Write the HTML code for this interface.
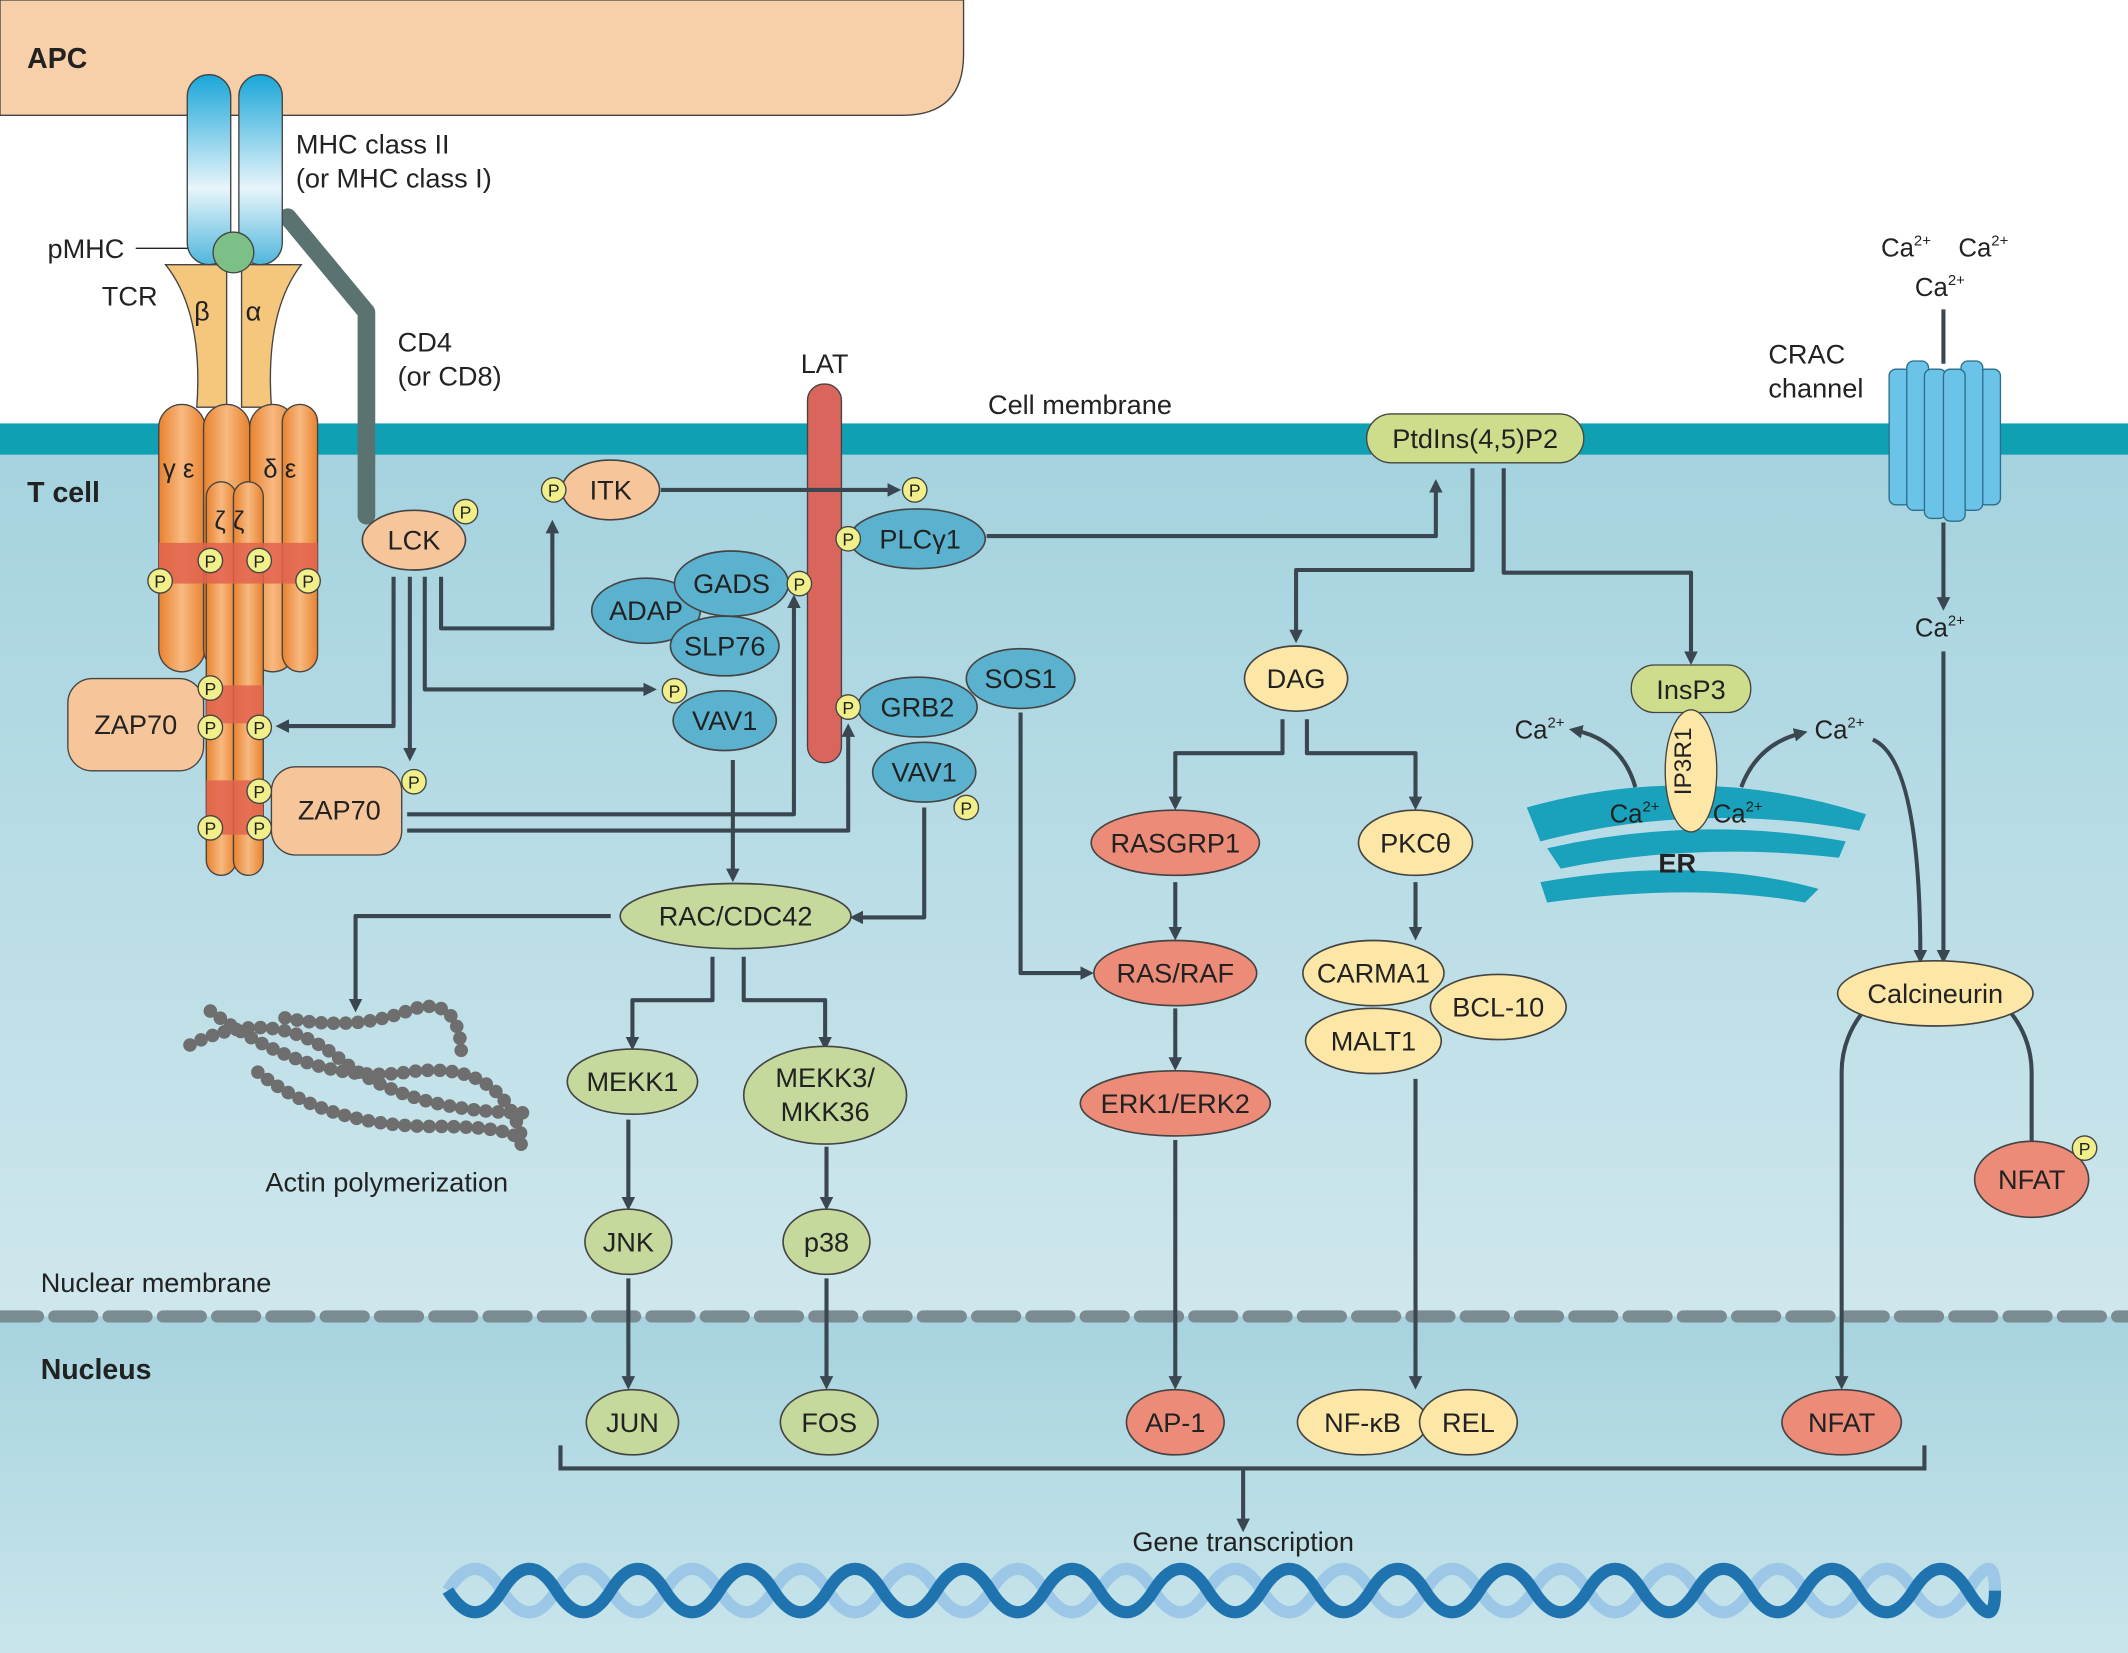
<!DOCTYPE html>
<html><head><meta charset="utf-8"><style>html,body{margin:0;padding:0;background:#fff}svg{display:block}text{font-family:"Liberation Sans",sans-serif;fill:#222}</style></head><body>
<svg width="2128" height="1653" viewBox="0 0 1568 1218" preserveAspectRatio="none" xmlns="http://www.w3.org/2000/svg">
<defs>
<linearGradient id="cyto" x1="0" y1="0" x2="0" y2="1"><stop offset="0" stop-color="#a3d2de"/><stop offset="1" stop-color="#cfe7ed"/></linearGradient>
<linearGradient id="nuc" x1="0" y1="0" x2="0" y2="1"><stop offset="0" stop-color="#a6d3de"/><stop offset="1" stop-color="#c9e5eb"/></linearGradient>
<linearGradient id="mhc" x1="0" y1="0" x2="0" y2="1"><stop offset="0" stop-color="#1aa6d8"/><stop offset="0.6" stop-color="#e8f5fb"/><stop offset="1" stop-color="#4fb6dc"/></linearGradient>
<linearGradient id="org" x1="0" y1="0" x2="1" y2="0"><stop offset="0" stop-color="#e8822e"/><stop offset="0.5" stop-color="#f8b980"/><stop offset="1" stop-color="#e8822e"/></linearGradient>
<marker id="ah" markerWidth="10" markerHeight="10" refX="6" refY="5" orient="auto" markerUnits="userSpaceOnUse"><path d="M0,0 L10,5 L0,10 Z" fill="#3a4650"/></marker>
</defs>
<!-- backgrounds -->
<rect x="0" y="312" width="1568" height="660" fill="url(#cyto)"/>
<rect x="0" y="970" width="1568" height="248" fill="url(#nuc)"/>
<rect x="0" y="312" width="1568" height="23" fill="#10a0b4"/>
<line x1="0" y1="970" x2="1568" y2="970" stroke="#7b8b92" stroke-width="9" stroke-dasharray="28 12" stroke-linecap="round"/>
<path d="M0,0 H710 V40 Q710,85 665,85 H0 Z" fill="#f7cfa8" stroke="#444" stroke-width="1"/>
<text x="20" y="50" font-size="21" font-weight="bold">APC</text>
<text x="20" y="370" font-size="21" font-weight="bold">T cell</text>
<text x="30" y="1016" font-size="21" font-weight="bold">Nucleus</text>
<text x="30" y="952" font-size="20">Nuclear membrane</text>
<text x="728" y="305" font-size="20">Cell membrane</text>
<text x="590" y="275" font-size="20">LAT</text>
<text x="293" y="259" font-size="20">CD4</text><text x="293" y="284" font-size="20">(or CD8)</text>
<text x="218" y="113" font-size="20">MHC class II</text><text x="218" y="138" font-size="20">(or MHC class I)</text>
<text x="35" y="190" font-size="20">pMHC</text><line x1="100" y1="183" x2="160" y2="183" stroke="#222"/>
<text x="75" y="225" font-size="20">TCR</text>
<text x="1303" y="268" font-size="20">CRAC</text><text x="1303" y="293" font-size="20">channel</text>
<!-- CD4 -->
<path d="M212,160 L270,230 V380" fill="none" stroke="#5a7270" stroke-width="13" stroke-linejoin="round" stroke-linecap="round"/>
<!-- TCR -->
<path d="M122,195 Q150,230 145,300 H167 V195 Z" fill="#f5c77c" stroke="#444"/>
<path d="M222,195 Q195,230 200,300 H178 V195 Z" fill="#f5c77c" stroke="#444"/>
<rect x="138" y="55" width="32" height="140" rx="16" fill="url(#mhc)" stroke="#444"/>
<rect x="176" y="55" width="32" height="140" rx="16" fill="url(#mhc)" stroke="#444"/>
<circle cx="172" cy="186" r="15" fill="#7dc087" stroke="#444"/>
<text x="143" y="236" font-size="20">β</text><text x="181" y="236" font-size="20">α</text>
<g stroke="#444" fill="url(#org)">
<rect x="117" y="298" width="34" height="197" rx="17"/><rect x="150" y="298" width="34" height="197" rx="17"/>
<rect x="184" y="298" width="34" height="197" rx="17"/><rect x="208" y="298" width="26" height="197" rx="13"/>
<rect x="152" y="355" width="22" height="290" rx="11"/><rect x="172" y="355" width="22" height="290" rx="11"/>
</g>
<g fill="#e2634e" opacity="0.85"><rect x="117" y="400" width="117" height="30"/><rect x="152" y="505" width="42" height="28"/><rect x="152" y="575" width="42" height="40"/></g>
<text x="120" y="352" font-size="19">γ ε</text><text x="194" y="352" font-size="19">δ ε</text><text x="158" y="390" font-size="19">ζ ζ</text>
<!-- LAT -->
<rect x="595" y="283" width="25" height="279" rx="12" fill="#d9655c" stroke="#444"/>
<!-- ZAP70 -->
<rect x="50" y="500" width="100" height="68" rx="18" fill="#f7c59a" stroke="#444"/>
<rect x="200" y="565" width="96" height="65" rx="18" fill="#f7c59a" stroke="#444"/>
<text x="100" y="541" font-size="20" text-anchor="middle">ZAP70</text>
<text x="250" y="604" font-size="20" text-anchor="middle">ZAP70</text>
<!-- PtdIns / InsP3 -->
<rect x="1007" y="305" width="160" height="36" rx="18" fill="#cedd8c" stroke="#444"/>
<text x="1087" y="330" font-size="20" text-anchor="middle">PtdIns(4,5)P2</text>
<!-- ER -->
<path d="M1125,595 Q1250,560 1375,600 L1370,612 Q1250,590 1135,620 Z M1140,625 Q1250,600 1360,620 L1355,632 Q1250,620 1150,640 Z M1135,650 Q1250,630 1340,655 L1330,665 Q1250,650 1140,665 Z" fill="#1aa1bc"/>
<text x="1222" y="643" font-size="20" font-weight="bold">ER</text>
<rect x="1202" y="490" width="88" height="35" rx="17" fill="#cedd8c" stroke="#444"/>
<text x="1246" y="515" font-size="20" text-anchor="middle">InsP3</text>
<ellipse cx="1246" cy="568" rx="19" ry="45" fill="#fde7a6" stroke="#444"/>
<text x="1253" y="568" font-size="18" text-anchor="middle" transform="rotate(-90 1246 568)">IP3R1</text>
<!-- CRAC -->
<line x1="1432" y1="228" x2="1432" y2="268" stroke="#3a4650" stroke-width="3"/>
<g fill="#6cc3e8" stroke="#2a6f8c">
<rect x="1392" y="272" width="16" height="100" rx="5"/><rect x="1458" y="272" width="16" height="100" rx="5"/>
<rect x="1405" y="266" width="16" height="110" rx="5"/><rect x="1445" y="266" width="16" height="110" rx="5"/>
<rect x="1418" y="272" width="16" height="110" rx="5"/><rect x="1432" y="272" width="16" height="112" rx="5"/>
</g>
<!-- arrows -->
<g fill="none" stroke="#3a4650" stroke-width="3" stroke-linejoin="round" marker-end="url(#ah)">
<path d="M487,361 H660"/>
<path d="M325,425 V463 H407 V387"/>
<path d="M313,425 V508 H480"/>
<path d="M290,425 V535 H207"/>
<path d="M302,425 V557"/>
<path d="M300,600 H585 V442"/>
<path d="M300,612 H625 V537"/>
<path d="M727,395 H1058 V357"/>
<path d="M1085,345 V420 H955 V470"/>
<path d="M1108,345 V422 H1246 V486"/>
<path d="M945,530 V555 H866 V593"/>
<path d="M963,530 V555 H1043 V593"/>
<path d="M866,650 V689"/><path d="M866,743 V785"/><path d="M866,840 V1020"/>
<path d="M752,525 V717 H802"/>
<path d="M1043,650 V689"/><path d="M1043,795 V1020"/>
<path d="M540,560 V646"/>
<path d="M681,595 V676 H630"/>
<path d="M450,675 H262 V742"/>
<path d="M525,705 V737 H466 V770"/><path d="M548,705 V737 H608 V770"/>
<path d="M463,825 V888"/><path d="M463,942 V1020"/>
<path d="M609,845 V888"/><path d="M609,942 V1020"/>
<path d="M1432,385 V446"/><path d="M1432,480 V706"/>
<path d="M1205,580 Q1195,545 1160,538"/>
<path d="M1283,580 Q1295,548 1328,540"/>
<path d="M1380,545 Q1415,560 1415,706"/>
<path d="M1497,842 V790 A70,70 0 0 0 1357,790 V1020"/>
<path d="M916,1082 V1125"/>
</g>
<path d="M413,1065 V1082 H1418 V1065" fill="none" stroke="#3a4650" stroke-width="3"/>
<!-- nodes -->
<g stroke="#444" stroke-width="1.2">
<g fill="#f7c59a"><ellipse cx="305" cy="398" rx="38" ry="22"/><ellipse cx="450" cy="361" rx="36" ry="22"/></g>
<g fill="#5ab2cf"><ellipse cx="476" cy="450" rx="40" ry="24"/><ellipse cx="539" cy="430" rx="42" ry="24"/><ellipse cx="534" cy="476" rx="40" ry="22"/><ellipse cx="534" cy="531" rx="38" ry="22"/><ellipse cx="676" cy="397" rx="50" ry="22"/><ellipse cx="752" cy="500" rx="40" ry="22"/><ellipse cx="676" cy="521" rx="44" ry="22"/><ellipse cx="681" cy="569" rx="38" ry="22"/></g>
<g fill="#fde7a6"><ellipse cx="955" cy="500" rx="38" ry="24"/><ellipse cx="1043" cy="621" rx="42" ry="24"/><ellipse cx="1104" cy="742" rx="50" ry="24"/><ellipse cx="1012" cy="717" rx="52" ry="24"/><ellipse cx="1012" cy="767" rx="50" ry="24"/><ellipse cx="1426" cy="732" rx="72" ry="24"/><ellipse cx="1004" cy="1048" rx="48" ry="24"/><ellipse cx="1082" cy="1048" rx="36" ry="24"/></g>
<g fill="#ec8b78"><ellipse cx="866" cy="621" rx="62" ry="24"/><ellipse cx="866" cy="717" rx="60" ry="24"/><ellipse cx="866" cy="813" rx="70" ry="24"/><ellipse cx="866" cy="1048" rx="36" ry="24"/><ellipse cx="1357" cy="1048" rx="44" ry="24"/><ellipse cx="1497" cy="869" rx="42" ry="28"/></g>
<g fill="#c4d99b"><ellipse cx="542" cy="675" rx="85" ry="24"/><ellipse cx="466" cy="797" rx="48" ry="24"/><ellipse cx="608" cy="807" rx="60" ry="36"/><ellipse cx="463" cy="915" rx="32" ry="24"/><ellipse cx="609" cy="915" rx="32" ry="24"/><ellipse cx="466" cy="1048" rx="34" ry="24"/><ellipse cx="611" cy="1048" rx="36" ry="24"/></g>
</g>
<g font-size="20" text-anchor="middle">
<text x="305" y="405">LCK</text><text x="450" y="368">ITK</text>
<text x="476" y="457">ADAP</text><text x="539" y="437">GADS</text><text x="534" y="483">SLP76</text><text x="534" y="538">VAV1</text>
<text x="678" y="404">PLCγ1</text><text x="752" y="507">SOS1</text><text x="676" y="528">GRB2</text><text x="681" y="576">VAV1</text>
<text x="955" y="507">DAG</text><text x="1043" y="628">PKCθ</text><text x="1104" y="749">BCL-10</text><text x="1012" y="724">CARMA1</text><text x="1012" y="774">MALT1</text><text x="1426" y="739">Calcineurin</text>
<text x="1004" y="1055">NF-κB</text><text x="1082" y="1055">REL</text>
<text x="866" y="628">RASGRP1</text><text x="866" y="724">RAS/RAF</text><text x="866" y="820">ERK1/ERK2</text><text x="866" y="1055">AP-1</text><text x="1357" y="1055">NFAT</text><text x="1497" y="876">NFAT</text>
<text x="542" y="682">RAC/CDC42</text><text x="466" y="804">MEKK1</text><text x="608" y="801">MEKK3/</text><text x="608" y="826">MKK36</text><text x="463" y="922">JNK</text><text x="609" y="922">p38</text><text x="466" y="1055">JUN</text><text x="611" y="1055">FOS</text>
<text x="285" y="878">Actin polymerization</text><text x="916" y="1143">Gene transcription</text>
</g>
<!-- P circles -->
<g fill="#f1ef8a" stroke="#444">
<circle cx="343" cy="377" r="9"/><circle cx="408" cy="361" r="9"/><circle cx="674" cy="361" r="9"/><circle cx="625" cy="397" r="9"/><circle cx="589" cy="430" r="9"/><circle cx="497" cy="509" r="9"/><circle cx="625" cy="521" r="9"/><circle cx="712" cy="595" r="9"/><circle cx="1536" cy="846" r="9"/>
<circle cx="118" cy="428" r="9"/><circle cx="155" cy="413" r="9"/><circle cx="191" cy="413" r="9"/><circle cx="227" cy="428" r="9"/>
<circle cx="155" cy="507" r="9"/><circle cx="155" cy="536" r="9"/><circle cx="191" cy="536" r="9"/><circle cx="191" cy="583" r="9"/><circle cx="155" cy="610" r="9"/><circle cx="191" cy="610" r="9"/><circle cx="305" cy="576" r="9"/>
</g>
<g font-size="13" text-anchor="middle">
<text x="343" y="382">P</text><text x="408" y="366">P</text><text x="674" y="366">P</text><text x="625" y="402">P</text><text x="589" y="435">P</text><text x="497" y="514">P</text><text x="625" y="526">P</text><text x="712" y="600">P</text><text x="1536" y="851">P</text>
<text x="118" y="433">P</text><text x="155" y="418">P</text><text x="191" y="418">P</text><text x="227" y="433">P</text>
<text x="155" y="512">P</text><text x="155" y="541">P</text><text x="191" y="541">P</text><text x="191" y="588">P</text><text x="155" y="615">P</text><text x="191" y="615">P</text><text x="305" y="581">P</text>
</g>
<!-- Ca labels -->
<g font-size="19"><text x="1386" y="189">Ca<tspan font-size="11" dy="-8">2+</tspan></text><text x="1443" y="189">Ca<tspan font-size="11" dy="-8">2+</tspan></text><text x="1411" y="218">Ca<tspan font-size="11" dy="-8">2+</tspan></text>
<text x="1411" y="469">Ca<tspan font-size="11" dy="-8">2+</tspan></text><text x="1116" y="544">Ca<tspan font-size="11" dy="-8">2+</tspan></text><text x="1337" y="544">Ca<tspan font-size="11" dy="-8">2+</tspan></text>
<text x="1186" y="606">Ca<tspan font-size="11" dy="-8">2+</tspan></text><text x="1262" y="606">Ca<tspan font-size="11" dy="-8">2+</tspan></text></g>
<!-- actin -->
<g fill="none" stroke="#6e6e6e" stroke-width="10" stroke-dasharray="0 9" stroke-linecap="round">
<path d="M140,770 Q200,740 250,780 T390,820"/>
<path d="M155,745 Q230,800 300,790 T385,840"/>
<path d="M190,790 Q240,830 320,830 T380,850"/>
<path d="M210,750 Q260,760 300,745 T340,780"/>
</g>
<!-- DNA -->
<path d="M330,1172 Q350,1140 370,1172 T410,1172 T450,1172 T490,1172 T530,1172 T570,1172 T610,1172 T650,1172 T690,1172 T730,1172 T770,1172 T810,1172 T850,1172 T890,1172 T930,1172 T970,1172 T1010,1172 T1050,1172 T1090,1172 T1130,1172 T1170,1172 T1210,1172 T1250,1172 T1290,1172 T1330,1172 T1370,1172 T1410,1172 T1450,1172 T1470,1172" fill="none" stroke="#9cc7e6" stroke-width="9"/>
<path d="M330,1172 Q350,1204 370,1172 T410,1172 T450,1172 T490,1172 T530,1172 T570,1172 T610,1172 T650,1172 T690,1172 T730,1172 T770,1172 T810,1172 T850,1172 T890,1172 T930,1172 T970,1172 T1010,1172 T1050,1172 T1090,1172 T1130,1172 T1170,1172 T1210,1172 T1250,1172 T1290,1172 T1330,1172 T1370,1172 T1410,1172 T1450,1172 T1470,1172" fill="none" stroke="#1f74b0" stroke-width="9"/>
</svg>
</body></html>
